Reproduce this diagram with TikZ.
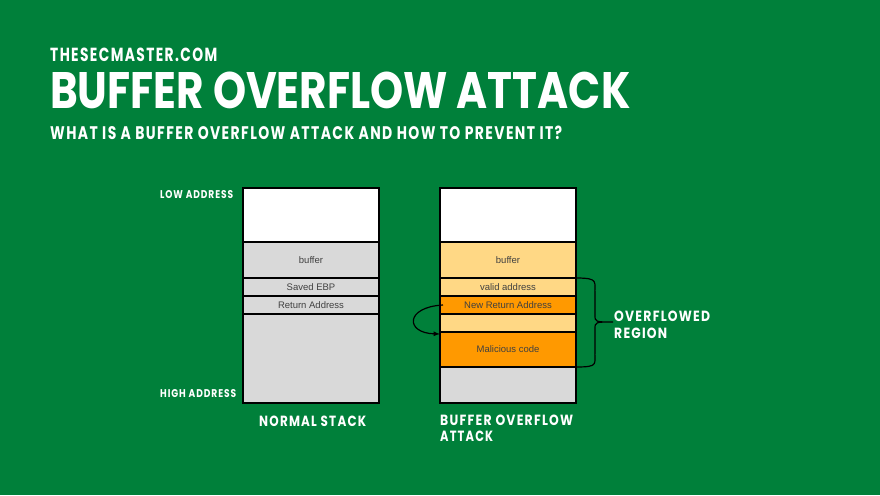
\documentclass[tikz,border=0pt]{standalone}
\usepackage{fontspec}
\setmainfont{Liberation Sans}
\newfontfamily\pop{Poppins}
\newfontfamily\pops[LetterSpace=10]{Poppins}
\usepackage{graphicx}
\definecolor{bg}{HTML}{00803A}
\definecolor{lor}{HTML}{FFD885}
\definecolor{dor}{HTML}{FF9900}
\definecolor{gry}{HTML}{D9D9D9}
\begin{document}
\begin{tikzpicture}[x=1pt,y=-1pt,
  cell/.style={draw=black,line width=1.1pt},
  lbl/.style={font=\fontsize{9.5}{10}\selectfont,text=black!75},
  hd/.style={text=white,inner sep=0pt,anchor=north west},
  side/.style={text=white,inner sep=0pt,font=\pops\bfseries\fontsize{8}{9}\selectfont,anchor=west}]
\fill[bg] (0,0) rectangle (880,495);
\node[hd] (site) at (50,48) {\resizebox{167pt}{13.5pt}{\pops\bfseries THESECMASTER.COM}};
\node[hd] (title) at (50,72) {\resizebox{580pt}{36.5pt}{\pop\bfseries BUFFER OVERFLOW ATTACK}};
\node[hd] (sub) at (50,126) {\resizebox{512pt}{13.5pt}{\pops\bfseries WHAT IS A BUFFER OVERFLOW ATTACK AND HOW TO PREVENT IT?}};
% normal stack
\filldraw[cell,fill=white] (243,188) rectangle (379,242);
\filldraw[cell,fill=gry] (243,242) rectangle (379,278) node[lbl,midway] (nb) {buffer};
\filldraw[cell,fill=gry] (243,278) rectangle (379,296) node[lbl,midway] (ne) {Saved EBP};
\filldraw[cell,fill=gry] (243,296) rectangle (379,314) node[lbl,midway] (nr) {Return Address};
\filldraw[cell,fill=gry] (243,314) rectangle (379,403);
% attack stack
\filldraw[cell,fill=white] (440,188) rectangle (576,242);
\filldraw[cell,fill=lor] (440,242) rectangle (576,278) node[lbl,midway] (ab) {buffer};
\filldraw[cell,fill=lor] (440,278) rectangle (576,296) node[lbl,midway] (av) {valid address};
\filldraw[cell,fill=dor] (440,296) rectangle (576,314) node[lbl,midway] (an) {New Return Address};
\filldraw[cell,fill=lor] (440,314) rectangle (576,332);
\filldraw[cell,fill=dor] (440,332) rectangle (576,367) node[lbl,midway] (am) {Malicious code};
\filldraw[cell,fill=gry] (440,367) rectangle (576,403);
\coordinate (s) at (443,305);
\coordinate (e) at (440,334);
\draw[line width=1.2pt,-latex] (s) .. controls (405,307) and (405,333) .. (e);
% brace
\draw[line width=1.2pt] (576,278) .. controls (600,278) and (594,282) .. (595,295) -- (595,315)
  .. controls (595,322) .. (613,322) .. controls (595,322) .. (595,329) -- (595,350)
  .. controls (594,364) and (600,367) .. (576,367);
\node[side] (ov) at (614,316) {\resizebox{96pt}{10.5pt}{OVERFLOWED}};
\node[side] (rg) at (614,333) {\resizebox{53pt}{10.5pt}{REGION}};
\node[side] (low) at (160,195) {\resizebox{73pt}{8pt}{LOW ADDRESS}};
\node[side] (high) at (160,394) {\resizebox{76pt}{8pt}{HIGH ADDRESS}};
\node[side] (ns) at (259,421) {\resizebox{107pt}{10.5pt}{NORMAL STACK}};
\node[side] (bo) at (440,420) {\resizebox{133pt}{10.5pt}{BUFFER OVERFLOW}};
\node[side] (at) at (440,436) {\resizebox{53pt}{10.5pt}{ATTACK}};
\end{tikzpicture}
\end{document}
